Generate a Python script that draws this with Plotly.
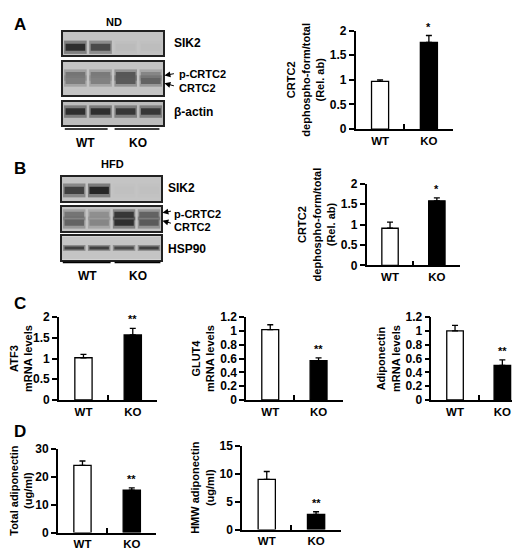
import plotly.graph_objects as go

W, H = 520, 552
FONT = "Arial, Liberation Sans, sans-serif"

# === data ===
groups = ["WT", "KO"]
lanes = [1, 2, 3, 4]

# A / B: CRTC2 dephospho-form / total (Rel. ab)
nd_ratio = [0.97, 1.76]
nd_ratio_err = [0.03, 0.14]
hfd_ratio = [0.91, 1.58]
hfd_ratio_err = [0.15, 0.07]

# C: mRNA levels
atf3 = [1.02, 1.57]
atf3_err = [0.08, 0.16]
glut4 = [1.02, 0.57]
glut4_err = [0.07, 0.04]
adipo_mrna = [1.00, 0.50]
adipo_mrna_err = [0.08, 0.08]

# D: serum adiponectin (ug/ml)
total_adipo = [24.0, 15.2]
total_adipo_err = [1.6, 0.8]
hmw_adipo = [9.0, 2.7]
hmw_adipo_err = [1.4, 0.5]

# western blot band intensity per lane (0 = none, 1 = black)
nd_sik2 = [0.85, 0.70, 0.05, 0.04]
nd_pcrtc2 = [0.45, 0.42, 0.62, 0.35]
nd_crtc2 = [0.40, 0.38, 0.60, 0.55]
nd_actin = [0.85, 0.85, 0.80, 0.80]
hfd_sik2 = [0.75, 0.90, 0.02, 0.02]
hfd_pcrtc2 = [0.45, 0.30, 0.80, 0.55]
hfd_crtc2 = [0.55, 0.35, 0.85, 0.60]
hfd_hsp90 = [0.75, 0.75, 0.70, 0.75]


def px(x):
    return x / W


def py(y):
    return 1 - y / H


fig = go.Figure()
counter = [0]


def new_axes():
    counter[0] += 1
    n = counter[0]
    return "" if n == 1 else str(n)


def bar_panel(xr, yr, vals, errs, rng, dtick, title, star):
    s = new_axes()
    fig.add_trace(go.Bar(
        x=groups, y=vals, xaxis="x" + s, yaxis="y" + s, width=0.35,
        marker=dict(color=["white", "black"], line=dict(color="black", width=1.3)),
        error_y=dict(type="data", array=errs, arrayminus=[0, 0], symmetric=False,
                     color="black", thickness=1.3, width=3),
    ))
    fig.update_layout(**{
        "xaxis" + s: dict(domain=[px(xr[0]), px(xr[1])], anchor="y" + s, type="category",
                          showline=True, linecolor="black", linewidth=1.5,
                          ticks="inside", tickson="boundaries", ticklen=5, tickwidth=1.5,
                          tickcolor="black", showgrid=False,
                          tickfont=dict(size=11.5, family=FONT, weight="bold")),
        "yaxis" + s: dict(domain=[py(yr[1]), py(yr[0])], anchor="x" + s, range=rng,
                          dtick=dtick, showline=True, linecolor="black", linewidth=1.5,
                          ticks="outside", ticklen=5, tickwidth=1.5, tickcolor="black",
                          showgrid=False, zeroline=False,
                          tickfont=dict(size=12, family=FONT, weight="bold"),
                          title=dict(text=title, standoff=3,
                                     font=dict(size=11, family=FONT, weight="bold"))),
    })
    fig.add_annotation(x="KO", y=vals[1] + errs[1], xref="x" + s, yref="y" + s,
                       text=star, showarrow=False, yanchor="bottom", yshift=1,
                       font=dict(size=11, family=FONT, weight="bold"))


blot_scale = [[0, "#c4c4c4"], [1, "#141414"]]


def blot_strip(xr, yr, bands, bg="#c4c4c4"):
    s = new_axes()
    for inten, center, thick in bands:
        # soft halo, then the band core
        for k, op, w in [(1.9, 0.45, 0.9), (1.0, 1.0, 0.78)]:
            t = thick * k
            fig.add_trace(go.Bar(
                x=lanes, y=[t] * len(lanes), base=[center - t / 2] * len(lanes),
                xaxis="x" + s, yaxis="y" + s, width=w, hoverinfo="skip", opacity=op,
                marker=dict(color=inten, colorscale=blot_scale, cmin=0, cmax=1,
                            line=dict(width=0)),
            ))
    fig.update_layout(**{
        "xaxis" + s: dict(domain=[px(xr[0]), px(xr[1])], anchor="y" + s, range=[0.5, 4.5],
                          showline=True, mirror=True, linecolor="#222", linewidth=1.5,
                          showticklabels=False, ticks="", showgrid=False, zeroline=False),
        "yaxis" + s: dict(domain=[py(yr[1]), py(yr[0])], anchor="x" + s, range=[0, 1],
                          showline=True, mirror=True, linecolor="#222", linewidth=1.5,
                          showticklabels=False, ticks="", showgrid=False, zeroline=False),
    })
    fig.add_shape(type="rect", xref="x" + s + " domain", yref="y" + s + " domain",
                  x0=0, x1=1, y0=0, y1=1, fillcolor=bg, line=dict(width=0), layer="below")


# --- blots ---
blot_strip((53, 154), (17, 41), [(nd_sik2, 0.33, 0.30)])
blot_strip((53, 154), (48, 82), [(nd_pcrtc2, 0.60, 0.18), (nd_crtc2, 0.42, 0.18)])
blot_strip((53, 154), (89, 113), [(nd_actin, 0.58, 0.28)], bg="#bcbcbc")
blot_strip((52, 152), (166, 191), [(hfd_sik2, 0.44, 0.30)])
blot_strip((52, 152), (197, 222), [(hfd_pcrtc2, 0.68, 0.24), (hfd_crtc2, 0.36, 0.26)])
blot_strip((52, 152), (227, 251), [(hfd_hsp90, 0.50, 0.13)])

# --- bar charts ---
crtc2_title = "CRTC2<br>dephospho-form/total<br>(Rel. ab)"
bar_panel((347, 445), (16, 117), nd_ratio, nd_ratio_err, [0, 2], 0.5, crtc2_title, "*")
bar_panel((358, 452), (173, 257), hfd_ratio, hfd_ratio_err, [0, 2], 0.5, crtc2_title, "*")
bar_panel((49, 148), (310, 395), atf3, atf3_err, [0, 2], 0.5, "ATF3<br>mRNA levels", "**")
bar_panel((237, 334), (310, 395), glut4, glut4_err, [0, 1.2], 0.2, "GLUT4<br>mRNA levels", "**")
bar_panel((423, 518), (310, 395), adipo_mrna, adipo_mrna_err, [0, 1.2], 0.2,
          "Adiponectin<br>mRNA levels", "**")
bar_panel((48, 147), (445, 531), total_adipo, total_adipo_err, [0, 30], 10,
          "Total adiponectin<br>(ug/ml)", "**")
bar_panel((233, 332), (442, 528), hmw_adipo, hmw_adipo_err, [0, 15], 5,
          "HMW adiponectin<br>(ug/ml)", "**")


# --- text labels ---
def label(x, y, text, size=12, xanchor="left"):
    fig.add_annotation(x=px(x), y=py(y), xref="paper", yref="paper", text=text,
                       showarrow=False, xanchor=xanchor, yanchor="middle",
                       font=dict(size=size, family=FONT, weight="bold", color="black"))


for letter, ly in [("A", 10), ("B", 158), ("C", 296), ("D", 427)]:
    label(2, ly, letter, size=17)

label(104, 7, "ND", size=11, xanchor="center")
label(103, 153, "HFD", size=11, xanchor="center")

label(163, 29, "SIK2")
label(168, 61, "p-CRTC2", size=11)
label(168, 75, "CRTC2", size=11)
label(163, 100, "β-actin")
label(157, 178, "SIK2")
label(163, 204, "p-CRTC2", size=11)
label(163, 218, "CRTC2", size=11)
label(157, 240, "HSP90")

for cx, cy, t in [(76, 131, "WT"), (128, 131, "KO"), (78, 268, "WT"), (128, 268, "KO")]:
    label(cx, cy, t, xanchor="center")

# group underlines
for x0, x1, y in [(55, 98, 117), (105, 150, 117), (53, 101, 254), (105, 151, 254)]:
    fig.add_shape(type="line", xref="paper", yref="paper", x0=px(x0), x1=px(x1),
                  y0=py(y), y1=py(y), line=dict(color="black", width=1.5))

# arrows for phospho / total CRTC2 (head position, tail offset in pixels)
for hx, hy, tx, ty in [(155, 62, 166, 60), (155, 70, 166, 73),
                       (153, 203, 163, 201), (153, 211, 163, 214)]:
    fig.add_annotation(x=px(hx), y=py(hy), xref="paper", yref="paper",
                       ax=tx - hx, ay=ty - hy,
                       text="", showarrow=True, arrowhead=2, arrowsize=1.2,
                       arrowwidth=1, arrowcolor="black")

fig.update_layout(
    width=W, height=H,
    margin=dict(l=0, r=0, t=0, b=0),
    paper_bgcolor="white", plot_bgcolor="white",
    showlegend=False, barmode="overlay",
    font=dict(family=FONT, color="black"),
)

fig.write_html("out.html")
